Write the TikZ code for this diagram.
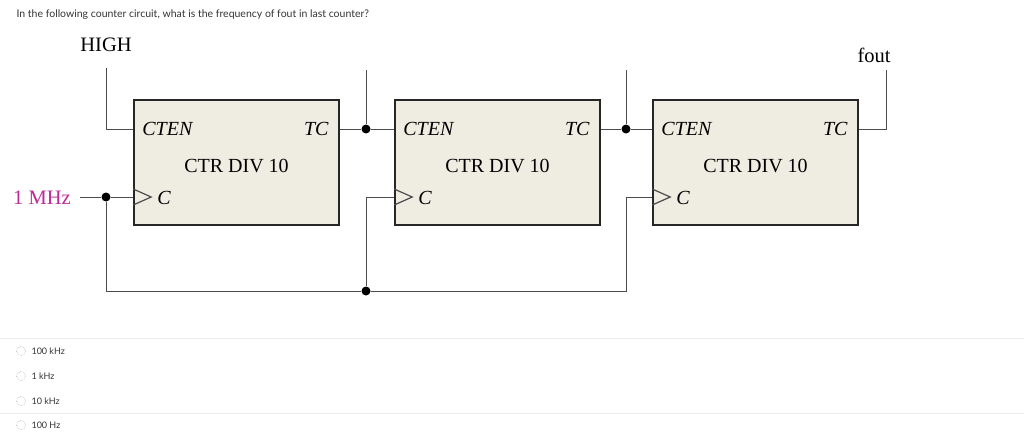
\documentclass[tikz,border=0pt]{standalone}
\usepackage{fontspec}
\setmainfont{Liberation Serif}
\newfontfamily\lato{Lato}
\begin{document}
\begin{tikzpicture}[x=1pt,y=-1pt,
  ctr/.style={draw=black!85,line width=1.6pt,fill={rgb,255:red,239;green,236;blue,225},minimum width=205pt,minimum height=125pt,inner sep=0pt},
  w/.style={draw=black!70,line width=1pt},
  dot/.style={circle,fill=black,inner sep=0pt,minimum size=9pt},
  lab/.style={font=\fontsize{20}{20}\selectfont\itshape,inner sep=0pt},
  opt/.style={font=\lato\fontsize{9}{9}\selectfont,anchor=west,text=black!80},
  rad/.style={draw=black!50,densely dotted,circle,minimum size=9pt,inner sep=0pt}]
\useasboundingbox (0,0) rectangle (1024,444);
\node[anchor=west,font=\lato\fontsize{10.5}{10.5}\selectfont,text=black!80] (q) at (13,15) {In the following counter circuit, what is the frequency of fout in last counter?};
\node[font=\fontsize{20.5}{20.5}\selectfont] (high) at (106,45) {HIGH};
\node[font=\fontsize{20.5}{20.5}\selectfont] (fout) at (874,55) {fout};
\node[font=\fontsize{20.5}{20.5}\selectfont,text={rgb,255:red,190;green,40;blue,150}] (mhz) at (42,198) {1 MHz};
\foreach \i/\x in {1/236.5,2/497.5,3/755.5}{
  \node[ctr] (b\i) at (\x,162.5) {};
  \node[font=\fontsize{20}{20}\selectfont] at (\x,166) {CTR DIV 10};
  \node[lab,anchor=west] (cten\i) at ([xshift=9pt]b\i.west |- 0,129) {CTEN};
  \node[lab,anchor=west] (tc\i) at ([xshift=-36pt]b\i.east |- 0,129) {TC};
  \node[lab,anchor=west] (c\i) at ([xshift=24pt]b\i.west |- 0,198) {C};
  \draw[w,line width=1.2pt] (b\i.west |- 0,189) -- ++(18,8) -- ++(-18,8);
}
\coordinate (in1) at (b1.west |- 0,129);
\coordinate (in2) at (b2.west |- 0,129);
\coordinate (in3) at (b3.west |- 0,129);
\coordinate (o1) at (b1.east |- 0,129);
\coordinate (o2) at (b2.east |- 0,129);
\coordinate (o3) at (b3.east |- 0,129);
\coordinate (ck1) at (b1.west |- 0,197);
\coordinate (ck2) at (b2.west |- 0,197);
\coordinate (ck3) at (b3.west |- 0,197);
\node[dot] (d1) at (366,129) {};
\node[dot] (d2) at (626,129) {};
\node[dot] (d0) at (106,197) {};
\node[dot] (d3) at (366,291) {};
\coordinate (h) at (106,68);
\coordinate (t1) at (366,70);
\coordinate (t2) at (626,70);
\coordinate (f) at (886,70);
\coordinate (m) at (80,197);
\draw[w] (h) |- (in1);
\draw[w] (o1) -- (d1) -- (in2);
\draw[w] (t1) -- (d1);
\draw[w] (o2) -- (d2) -- (in3);
\draw[w] (t2) -- (d2);
\draw[w] (o3) -| (f);
\draw[w] (m) -- (d0) -- (ck1);
\draw[w] (d0) |- (d3) -- (626,291) |- (ck3);
\draw[w] (d3) |- (ck2);
\draw[black!8,line width=0.8pt] (0,338) -- (1024,338);
\draw[black!8,line width=0.8pt] (0,413) -- (1024,413);
\foreach \y/\t [count=\k] in {351/100 kHz,376/1 kHz,401/10 kHz,425/100 Hz}{
  \node[rad] (r\k) at (21,\y) {};
  \node[opt] (t\k) at (28,\y) {\t};
}
\end{tikzpicture}
\end{document}
